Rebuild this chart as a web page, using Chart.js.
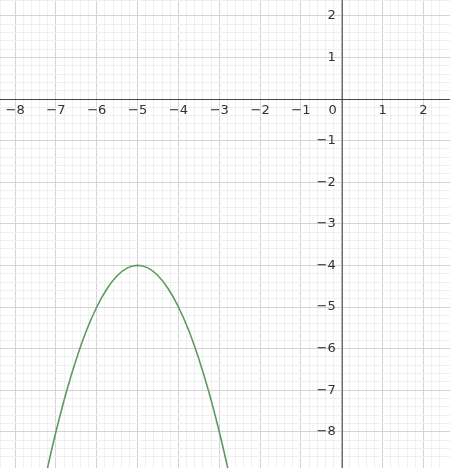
<!DOCTYPE html>
<html>
<head>
<meta charset="utf-8">
<script src="https://cdn.jsdelivr.net/npm/chart.js@4"></script>
<style>
  html, body { margin: 0; padding: 0; background: #fff; }
  canvas { display: block; }
</style>
</head>
<body>
<canvas id="graph" width="450" height="468"></canvas>
<script>
// points
const curveX = [-7.35, -7.25, -7, -6.75, -6.5, -6.25, -6, -5.75, -5.5, -5.25, -5, -4.75, -4.5, -4.25, -4, -3.75, -3.5, -3.25, -3, -2.75, -2.65];
const curveY = [-9.52, -9.06, -8, -7.06, -6.25, -5.56, -5, -4.56, -4.25, -4.06, -4, -4.06, -4.25, -4.56, -5, -5.56, -6.25, -7.06, -8, -9.06, -9.52];
const xTickLabels = [-8, -7, -6, -5, -4, -3, -2, -1, 1, 2];
const yTickLabels = [2, 1, -1, -2, -3, -4, -5, -6, -7, -8, -9];
const xRange = [-8.37, 2.65];
const yRange = [-8.87, 2.38];

const minus = (v) => String(v).replace("-", "\u2212");

const gridColor = (ctx) => {
  const v = ctx.tick ? ctx.tick.value : 0;
  return Math.abs(v - Math.round(v)) < 1e-6 ? "#d4d4d4" : "#efefef";
};

const axesPlugin = {
  id: "axes",
  afterDatasetsDraw(chart) {
    const { ctx, scales } = chart;
    const x0 = scales.x.getPixelForValue(0);
    const y0 = scales.y.getPixelForValue(0);
    ctx.save();
    ctx.strokeStyle = "#444";
    ctx.lineWidth = 1;
    ctx.beginPath();
    ctx.moveTo(0, y0 + 0.5); ctx.lineTo(chart.width, y0 + 0.5);
    ctx.moveTo(x0 + 0.5, 0); ctx.lineTo(x0 + 0.5, chart.height);
    ctx.stroke();
    ctx.font = "13px 'DejaVu Sans', sans-serif";
    ctx.fillStyle = "#333";
    ctx.textBaseline = "top";
    ctx.textAlign = "center";
    xTickLabels.forEach((v) => {
      ctx.fillText(minus(v), scales.x.getPixelForValue(v), y0 + 5);
    });
    ctx.textAlign = "right";
    ctx.fillText("0", x0 - 5, y0 + 5);
    ctx.textBaseline = "middle";
    yTickLabels.forEach((v) => {
      ctx.fillText(minus(v), x0 - 6, scales.y.getPixelForValue(v));
    });
    ctx.restore();
  },
};

new Chart(document.getElementById("graph"), {
  type: "scatter",
  data: {
    datasets: [{
      data: curveX.map((x, i) => ({ x: x, y: curveY[i] })),
      showLine: true,
      borderColor: "#5e9a5e",
      borderWidth: 1.6,
      pointRadius: 0,
      tension: 0.4,
      fill: false,
    }],
  },
  options: {
    responsive: false,
    animation: false,
    layout: { padding: 0 },
    plugins: { legend: { display: false }, tooltip: { enabled: false } },
    scales: {
      x: {
        type: "linear", min: xRange[0], max: xRange[1],
        ticks: { display: false, stepSize: 0.2 },
        grid: { color: gridColor, drawTicks: false },
        border: { display: false },
      },
      y: {
        type: "linear", min: yRange[0], max: yRange[1],
        ticks: { display: false, stepSize: 0.2 },
        grid: { color: gridColor, drawTicks: false },
        border: { display: false },
      },
    },
  },
  plugins: [axesPlugin],
});
</script>
</body>
</html>
